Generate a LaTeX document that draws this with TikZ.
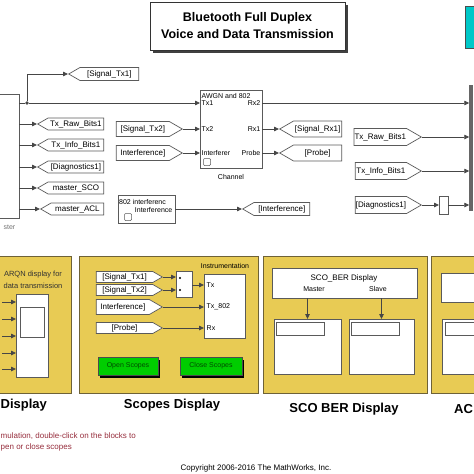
\documentclass[tikz,border=0pt]{standalone}
\usepackage{fontspec}
\setmainfont{Liberation Sans}
\usetikzlibrary{shapes.symbols,arrows.meta}

\definecolor{wirec}{RGB}{70,70,70}
\definecolor{tagc}{RGB}{90,90,90}
\definecolor{panelc}{RGB}{232,203,84}
\definecolor{paneledge}{RGB}{110,98,55}
\definecolor{buttonc}{RGB}{0,205,0}
\definecolor{notec}{RGB}{150,45,60}
\definecolor{cyanc}{RGB}{0,200,200}

\begin{document}
\begin{tikzpicture}[x=1pt,y=-1pt]
  \tikzset{TagHeight/.style = {
    inner ysep          = {(#1pt-7.4pt)/2}
    }
  }
  \tikzset{GotoStyle/.style = {
    shape               = signal,
    signal to           = west,
    signal pointer angle = 60,
    draw                = tagc,
    fill                = white,
    line width          = 0.7pt,
    text                = black,
    font                = \fontsize{8}{9}\selectfont,
    text height         = 5.8pt,
    text depth          = 1.6pt,
    inner xsep          = 0.5pt,
    TagHeight           = 12,
    minimum width       = 66pt,
    anchor              = west
    }
  }
  \tikzset{FromStyle/.style = {
    GotoStyle,
    signal to           = east,
    anchor              = east
    }
  }
  \tikzset{BlockStyle/.style = {
    shape               = rectangle,
    draw                = tagc,
    fill                = white,
    line width          = 0.8pt,
    inner sep           = 0pt,
    outer sep           = 0pt
    }
  }
  \tikzset{PanelStyle/.style = {
    shape               = rectangle,
    draw                = paneledge,
    fill                = panelc,
    line width          = 1pt,
    inner sep           = 0pt
    }
  }
  \tikzset{ButtonStyle/.style = {
    shape               = rectangle,
    draw                = black!70,
    fill                = buttonc,
    line width          = 0.6pt,
    font                = \fontsize{7}{8}\selectfont,
    text                = black!70!green,
    minimum width       = 60pt,
    minimum height      = 18pt
    }
  }
  \tikzset{Wire/.style = {
    draw                = wirec,
    line width          = 0.8pt,
    -{Triangle[length=5pt,width=4.5pt]}
    }
  }
  \tikzset{Line/.style = {
    draw                = wirec,
    line width          = 0.8pt
    }
  }
  \tikzset{PortLabel/.style = {
    font                = \fontsize{7}{8}\selectfont,
    inner sep           = 0.5pt
    }
  }
  \tikzset{BigLabel/.style = {
    font                = \fontsize{13}{14}\selectfont\bfseries,
    inner sep           = 0pt
    }
  }

  \useasboundingbox (0,0) rectangle (474,474);

  % title and top right block
  \fill[black!75] (153,5) rectangle (348,53);
  \node[BlockStyle, draw=black!80, line width=1pt, minimum width=195pt, minimum height=48pt,
        align=center, font=\fontsize{12.5}{17}\selectfont\bfseries] (title) at (247.5,26)
        {Bluetooth Full Duplex\\Voice and Data Transmission};
  \node[BlockStyle, fill=cyanc, draw=black!70, minimum width=20pt, minimum height=42pt] (cyanblk) at (475,27) {};

  % master block
  \node[BlockStyle, minimum width=30pt, minimum height=124pt] (master) at (4,156) {};
  \node[PortLabel, text=black!55, anchor=east] (masterlbl) at (16,227) {ster};
  \node[circle, fill=wirec, inner sep=1.4pt] (dotA) at (27,103) {};

  % goto tags of the master block
  \node[GotoStyle, minimum width=70pt, TagHeight=13] (sigtx1) at (68,74) {[Signal\_Tx1]};
  \node[GotoStyle] (rawbits)  at (37,124) {Tx\_Raw\_Bits1};
  \node[GotoStyle] (infobits) at (37,145) {Tx\_Info\_Bits1};
  \node[GotoStyle] (diagL)    at (37,167) {[Diagnostics1]};
  \node[GotoStyle] (msco)     at (37,188) {master\_SCO};
  \node[GotoStyle, minimum width=63pt] (macl) at (40,209) {master\_ACL};

  \draw[Line] (master.east |- dotA) -- (dotA);
  \draw[Wire] (dotA) |- (sigtx1.west);
  \draw[Wire] (master.east |- rawbits) -- (rawbits.west);
  \draw[Wire] (master.east |- infobits) -- (infobits.west);
  \draw[Wire] (master.east |- diagL) -- (diagL.west);
  \draw[Wire] (master.east |- msco) -- (msco.west);
  \draw[Wire] (master.east |- macl) -- (macl.west);

  % channel
  \node[BlockStyle, minimum width=62pt, minimum height=78pt] (awgn) at (231,129) {};
  \node[PortLabel, anchor=west] (awgnlbl) at (201,96) {AWGN and 802};
  \node[PortLabel, anchor=west] (ptx1) at (201,103) {Tx1};
  \node[PortLabel, anchor=west] (ptx2) at (201,129) {Tx2};
  \node[PortLabel, anchor=west] (pint) at (201,153) {Interferer};
  \node[PortLabel, anchor=east] (prx2) at (261,103) {Rx2};
  \node[PortLabel, anchor=east] (prx1) at (261,129) {Rx1};
  \node[PortLabel, anchor=east] (pprb) at (261,153) {Probe};
  \node[PortLabel] (chlbl) at (231,177) {Channel};
  \node[BlockStyle, rounded corners=1pt, minimum size=7pt, line width=0.5pt] (iconA) at (207,162) {};

  \node[FromStyle, TagHeight=15] (sigtx2)  at (183,129) {[Signal\_Tx2]};
  \node[FromStyle, TagHeight=15] (interfA) at (183,153) {Interference]};
  \draw[Wire] (dotA) -- (awgn.west |- dotA);
  \draw[Wire] (sigtx2.east) -- (awgn.west |- sigtx2);
  \draw[Wire] (interfA.east) -- (awgn.west |- interfA);

  \node[GotoStyle, minimum width=62pt, TagHeight=16] (sigrx1) at (279,129) {[Signal\_Rx1]};
  \node[GotoStyle, minimum width=62pt, TagHeight=16] (probe)  at (279,153) {[Probe]};
  \draw[Wire] (awgn.east |- sigrx1) -- (sigrx1.west);
  \draw[Wire] (awgn.east |- probe) -- (probe.west);

  % 802 interference source
  \node[BlockStyle, minimum width=57pt, minimum height=28pt] (i802) at (146.5,209) {};
  \node[PortLabel, anchor=west] (i802a) at (118.5,202) {802 interferenc};
  \node[PortLabel, anchor=east] (i802b) at (173,210) {Interference};
  \node[BlockStyle, rounded corners=1pt, minimum size=7pt, line width=0.5pt] (iconB) at (128,217) {};
  \node[GotoStyle, minimum width=67pt, TagHeight=13] (interfB) at (242,209) {[Interference]};
  \draw[Wire] (i802.east |- interfB) -- (interfB.west);

  % bus on the right
  \node[BlockStyle, fill=black!60, draw=black!60, minimum width=3.5pt, minimum height=125pt] (bus) at (471,147.5) {};
  \node[FromStyle, TagHeight=17] (rawR)  at (422,137) {Tx\_Raw\_Bits1};
  \node[FromStyle, TagHeight=17] (infoR) at (422,171) {Tx\_Info\_Bits1};
  \node[FromStyle, TagHeight=17] (diagR) at (422,205) {[Diagnostics1]};
  \node[BlockStyle, minimum width=9pt, minimum height=18pt] (dgain) at (443.5,205) {};
  \draw[Wire] (awgn.east |- dotA) -- (bus.west |- dotA);
  \draw[Wire] (rawR.east) -- (bus.west |- rawR);
  \draw[Wire] (infoR.east) -- (bus.west |- infoR);
  \draw[Wire] (diagR.east) -- (dgain.west);
  \draw[Wire] (dgain.east) -- (bus.west |- dgain);

  % panels
  \node[PanelStyle, minimum width=81pt, minimum height=137pt] (panelA) at (30.5,324.5) {};
  \node[PanelStyle, minimum width=179pt, minimum height=137pt] (panelB) at (168.5,324.5) {};
  \node[PanelStyle, minimum width=164pt, minimum height=137pt] (panelC) at (345,324.5) {};
  \node[PanelStyle, minimum width=60pt, minimum height=137pt] (panelD) at (461,324.5) {};

  % ARQN panel
  \node[PortLabel, text=black!80, align=center, font=\fontsize{7.5}{12}\selectfont] (arqnlbl) at (33,280)
        {ARQN display for\\data transmission};
  \node[BlockStyle, minimum width=32pt, minimum height=83pt] (arqn) at (32,335.5) {};
  \node[BlockStyle, minimum width=24pt, minimum height=30pt] (arqnwin) at (32,322) {};
  \foreach \yy/\nm in {302/a, 319/b, 336/c, 353/d, 369/e}
    \coordinate (arqnin\nm) at (2,\yy);
  \foreach \nm in {a,b,c,d,e}
    \draw[Wire] (arqnin\nm) -- (arqnin\nm -| arqn.west);
  \node[BigLabel, anchor=west] (arqnname) at (0.5,405) {Display};

  % scopes panel
  \node[FromStyle, TagHeight=11] (stx1)   at (163,277) {[Signal\_Tx1]};
  \node[FromStyle, TagHeight=11] (stx2)   at (163,290) {[Signal\_Tx2]};
  \node[FromStyle, TagHeight=15] (sint)   at (163,307) {Interference]};
  \node[FromStyle, TagHeight=11] (sprobe) at (163,328) {[Probe]};
  \node[BlockStyle, minimum width=16pt, minimum height=26pt] (mux) at (184,284) {};
  \node[circle, fill=black, inner sep=0.8pt] (muxa) at (180,278) {};
  \node[circle, fill=black, inner sep=0.8pt] (muxb) at (180,290) {};
  \node[BlockStyle, minimum width=41pt, minimum height=64pt] (instr) at (224.5,306) {};
  \node[PortLabel] (instrlbl) at (225,266) {Instrumentation};
  \node[PortLabel, anchor=west] (itx)  at (206,285) {Tx};
  \node[PortLabel, anchor=west] (itx8) at (206,307) {Tx\_802};
  \node[PortLabel, anchor=west] (irx)  at (206,328) {Rx};
  \draw[Wire] (stx1.east) -- (mux.west |- stx1);
  \draw[Wire] (stx2.east) -- (mux.west |- stx2);
  \draw[Wire] (mux.east |- itx) -- (instr.west |- itx);
  \draw[Wire] (sint.east) -- (instr.west |- sint);
  \draw[Wire] (sprobe.east) -- (instr.west |- sprobe);
  \fill[black] (100,360) rectangle (160,378);
  \fill[black] (182,360) rectangle (244,378);
  \node[ButtonStyle] (openbtn)  at (128,366) {Open Scopes};
  \node[ButtonStyle, minimum width=62pt] (closebtn) at (211,366) {Close Scopes};
  \node[BigLabel] (scopesname) at (172,405) {Scopes Display};

  % SCO BER panel
  \node[BlockStyle, minimum width=145pt, minimum height=30pt] (scohead) at (344.5,283) {};
  \node[PortLabel, font=\fontsize{8}{9}\selectfont] (scottl) at (344,278) {SCO\_BER Display};
  \node[PortLabel] (scom) at (314,289) {Master};
  \node[PortLabel] (scos) at (378,289) {Slave};
  \node[BlockStyle, minimum width=67pt, minimum height=55pt] (scoM) at (307.5,346.5) {};
  \node[BlockStyle, minimum width=65pt, minimum height=55pt] (scoS) at (381.5,346.5) {};
  \node[BlockStyle, minimum width=48pt, minimum height=13pt] (scoMwin) at (300,328.5) {};
  \node[BlockStyle, minimum width=48pt, minimum height=13pt] (scoSwin) at (375,328.5) {};
  \draw[Wire] (scohead.south -| scoM) -- (scoM.north);
  \draw[Wire] (scohead.south -| scoS) -- (scoS.north);
  \node[BigLabel] (sconame) at (344,409) {SCO BER Display};

  % AC panel
  \node[BlockStyle, minimum width=50pt, minimum height=29pt] (achead) at (466,287.5) {};
  \node[BlockStyle, minimum width=50pt, minimum height=55pt] (acM) at (467,346.5) {};
  \node[BlockStyle, minimum width=40pt, minimum height=13pt] (acMwin) at (465,329) {};
  \node[BigLabel, anchor=west] (acname) at (454,409) {AC};

  % notes
  \node[PortLabel, text=notec, anchor=west, font=\fontsize{8}{9}\selectfont] (notea) at (0,436)
        {mulation, double-click on the blocks to};
  \node[PortLabel, text=notec, anchor=west, font=\fontsize{8}{9}\selectfont] (noteb) at (0,447)
        {pen or close scopes};
  \node[PortLabel, anchor=west, font=\fontsize{8}{9}\selectfont] (copyr) at (180,468)
        {Copyright 2006-2016 The MathWorks, Inc.};
\end{tikzpicture}
\end{document}
